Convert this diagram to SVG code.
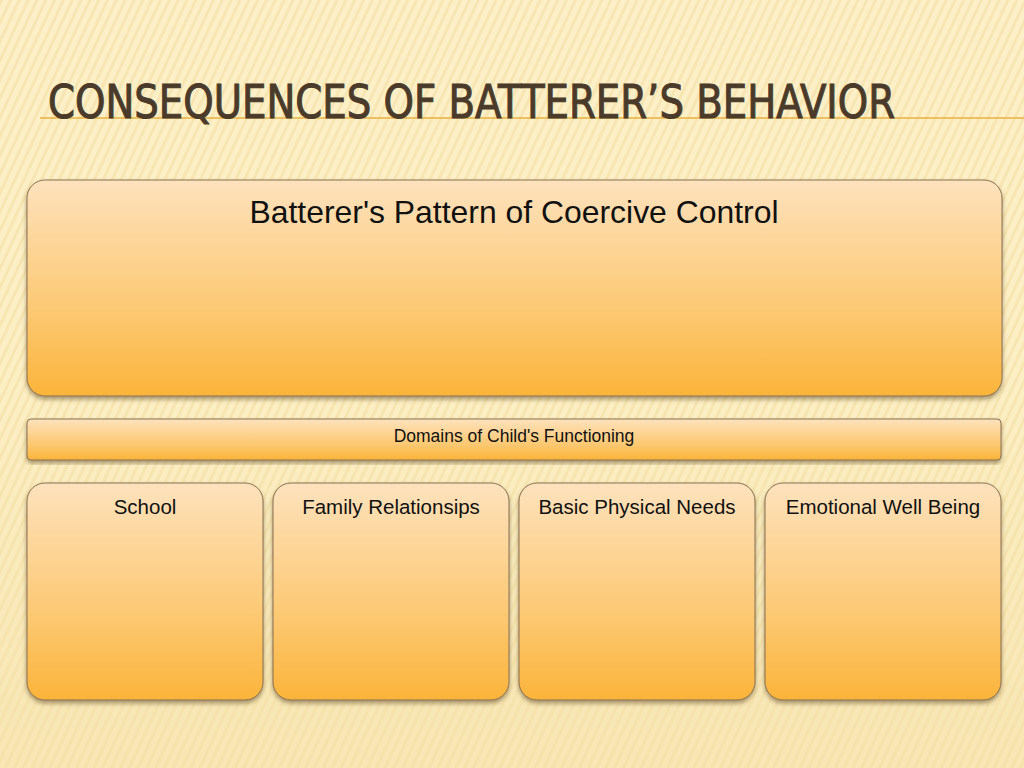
<svg xmlns="http://www.w3.org/2000/svg" width="1024" height="768" viewBox="0 0 1024 768">
<defs>
<linearGradient id="bg" x1="0" y1="0" x2="0" y2="1"><stop offset="0" stop-color="#fdf0c8"/><stop offset="0.5" stop-color="#fcefc4"/><stop offset="1" stop-color="#f8e6b4"/></linearGradient>
<pattern id="stripes" width="8" height="8" patternUnits="userSpaceOnUse" patternTransform="rotate(25)"><rect width="3" height="8" fill="#f3dfa5" opacity="0.6"/></pattern>
<linearGradient id="box" x1="0" y1="0" x2="0" y2="1"><stop offset="0" stop-color="#fde2bd"/><stop offset="0.6" stop-color="#fcc974"/><stop offset="1" stop-color="#fbb43a"/></linearGradient>
<filter id="sh" x="-5%" y="-5%" width="110%" height="115%"><feDropShadow dx="0" dy="3" stdDeviation="2" flood-color="#5a4020" flood-opacity="0.5"/></filter>
</defs>
<style>
.b{fill:url(#box);stroke:#8a7050;stroke-width:1;filter:url(#sh)}
.t{font-family:"Liberation Sans",Arial,sans-serif;fill:#111;text-anchor:middle}
</style>
<rect width="1024" height="768" fill="url(#bg)"/>
<rect width="1024" height="768" fill="url(#stripes)"/>
<g id="title">
<line x1="40" y1="118" x2="1024" y2="118" stroke="#e8b040" stroke-width="1.5"/>
<text x="48" y="118" font-family="'DejaVu Sans Condensed','Liberation Sans Narrow',sans-serif" font-size="46" fill="#4a3a2a" stroke="#4a3a2a" stroke-width="1" textLength="847" lengthAdjust="spacingAndGlyphs">CONSEQUENCES OF BATTERER’S BEHAVIOR</text>
</g>
<g id="top"><rect class="b" x="27" y="180" width="975" height="216" rx="18"/><text class="t" x="514" y="223" font-size="31.5" textLength="529" lengthAdjust="spacingAndGlyphs">Batterer's Pattern of Coercive Control</text></g>
<g id="domains"><rect class="b" x="27" y="419" width="974" height="41" rx="4"/><text class="t" x="514" y="442" font-size="17.5">Domains of Child's Functioning</text></g>
<g id="school"><rect class="b" x="27" y="483" width="236" height="217" rx="18"/><text class="t" x="145" y="514" font-size="20.5">School</text></g>
<g id="family"><rect class="b" x="273" y="483" width="236" height="217" rx="18"/><text class="t" x="391" y="514" font-size="20.5">Family Relationsips</text></g>
<g id="physical"><rect class="b" x="519" y="483" width="236" height="217" rx="18"/><text class="t" x="637" y="514" font-size="20.5">Basic Physical Needs</text></g>
<g id="emotional"><rect class="b" x="765" y="483" width="236" height="217" rx="18"/><text class="t" x="883" y="514" font-size="20.5">Emotional Well Being</text></g>
<g id="connectors"/>
</svg>
